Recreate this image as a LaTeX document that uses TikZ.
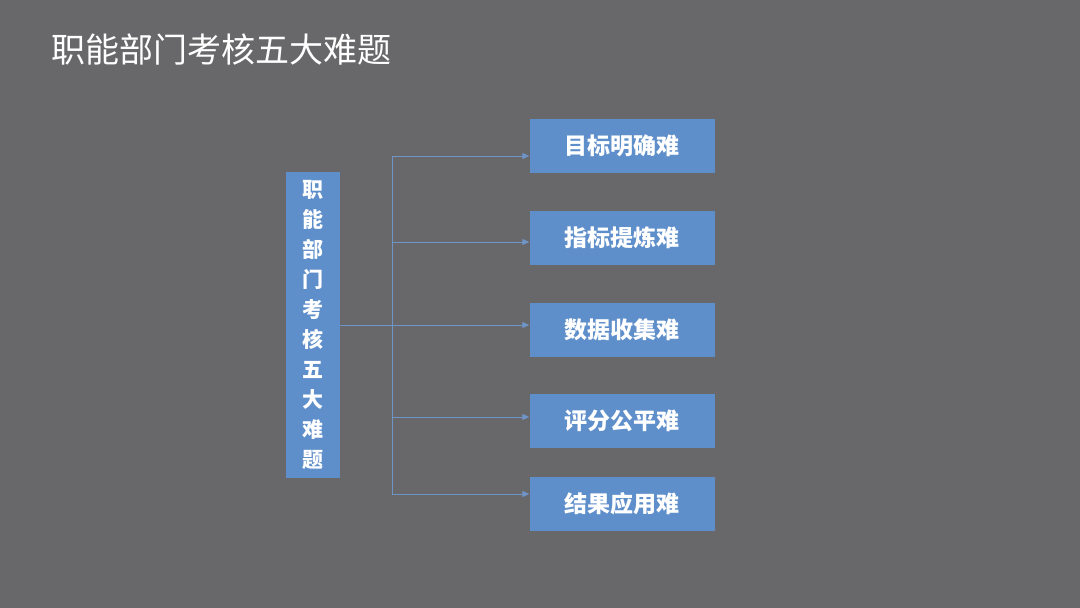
\documentclass[tikz,border=0pt]{standalone}
\usepackage{fontspec}
\usetikzlibrary{arrows.meta}
\newfontfamily\cjk{Noto Sans CJK SC}
\definecolor{bg}{HTML}{68686B}
\definecolor{bx}{HTML}{5F8FCA}
\definecolor{ln}{HTML}{6F95C8}
\begin{document}
\begin{tikzpicture}[x=1pt,y=-1pt,font=\cjk,
 rbox/.style={fill=bx,minimum width=185pt,minimum height=54pt,text=white,font=\cjk\bfseries\fontsize{23}{27}\selectfont},
 conn/.style={draw=ln,line width=1pt,-{Triangle[length=7pt,width=6pt]}}]
\fill[bg] (0,0) rectangle (1080,608);
\node[anchor=west,text=white,font=\cjk\fontsize{34}{40}\selectfont] (title) at (48,50) {职能部门考核五大难题};
\node[fill=bx,minimum width=54pt,minimum height=306pt,text=white,align=center,font=\cjk\bfseries\fontsize{21}{30}\selectfont] (main) at (313,325) {职\\能\\部\\门\\考\\核\\五\\大\\难\\题};
\node[rbox] (b1) at (622,146) {目标明确难};
\node[rbox] (b2) at (622,238) {指标提炼难};
\node[rbox] (b3) at (622,330) {数据收集难};
\node[rbox] (b4) at (622,421) {评分公平难};
\node[rbox] (b5) at (622,504) {结果应用难};
\coordinate (j) at (392,325);
\coordinate (t) at (392,156);
\coordinate (u) at (392,494);
\draw[ln,line width=1pt] (main.east |- j) -- (j);
\draw[ln,line width=1pt] (t) -- (u);
\draw[conn] (t) -- (b1.west |- t);
\draw[conn] (392,242) -- (b2.west |- 0,242);
\draw[conn] (j) -- (b3.west |- j);
\draw[conn] (392,417) -- (b4.west |- 0,417);
\draw[conn] (u) -- (b5.west |- u);
\end{tikzpicture}
\end{document}
